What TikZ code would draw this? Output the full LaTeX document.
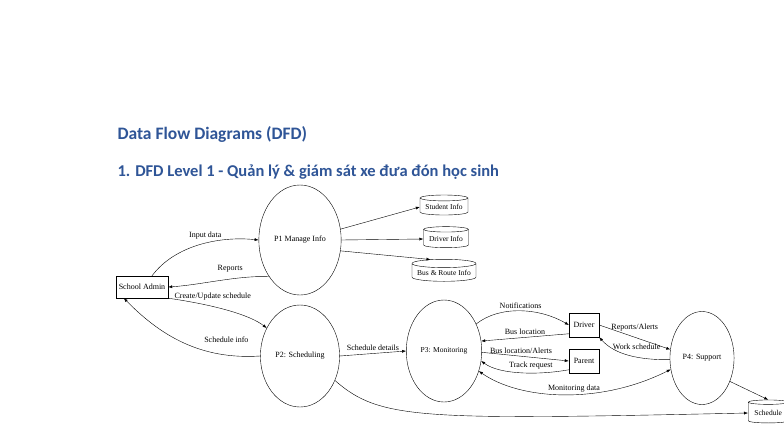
\documentclass[tikz,border=0pt]{standalone}
\usepackage{fontspec}
\setmainfont{Liberation Serif}
\newfontfamily\titlefont{Carlito}
\usetikzlibrary{shapes.geometric,arrows.meta}
\definecolor{tblue}{HTML}{2F5597}
\begin{document}
\begin{tikzpicture}[x=1pt,y=-1pt,
  ent/.style={draw,rectangle,font=\fontsize{8}{9}\selectfont,inner sep=1pt},
  store/.style={draw,cylinder,shape border rotate=90,aspect=0.15,font=\fontsize{7.5}{8}\selectfont,inner sep=1pt},
  flow/.style={-{Latex[length=4pt,width=3pt]},thin},
  lab/.style={font=\fontsize{8}{9}\selectfont,inner sep=0.5pt}]
\useasboundingbox (0,0) rectangle (784,441);
\fill[white] (0,0) rectangle (784,441);
\node[anchor=west,text=tblue,font=\titlefont\bfseries\fontsize{17.5}{19}\selectfont] (t1) at (114,134) {Data Flow Diagrams (DFD)};
\node[anchor=west,text=tblue,font=\titlefont\bfseries\fontsize{16.5}{18}\selectfont] (t2) at (114,172) {1. DFD Level 1 - Quản lý \& giám sát xe đưa đón học sinh};

\node[ent,minimum width=52pt,minimum height=22pt] (adm) at (142,287) {School Admin};
\node[draw,ellipse,minimum width=76pt,minimum height=110pt,font=\fontsize{8}{9}\selectfont] (p1) at (300,240) {P1 Manage Info};
\node[draw,ellipse,minimum width=74pt,minimum height=102pt,font=\fontsize{8}{9}\selectfont] (p2) at (300,356) {P2: Scheduling};
\node[draw,ellipse,minimum width=75pt,minimum height=102pt,font=\fontsize{7.5}{8}\selectfont] (p3) at (444,351) {P3: Monitoring};
\node[draw,ellipse,minimum width=60pt,minimum height=93pt,font=\fontsize{8}{9}\selectfont] (p4) at (702,358) {P4: Support};
\node[ent,minimum width=30pt,minimum height=24pt] (drv) at (584,325) {Driver};
\node[ent,minimum width=30pt,minimum height=24pt] (par) at (584,361) {Parent};
\node[store,minimum width=48pt,minimum height=20pt] (si) at (444,207) {Student Info};
\node[store,minimum width=45pt,minimum height=21pt] (di) at (446,239) {Driver Info};
\node[store,minimum width=64pt,minimum height=22pt] (bri) at (444,273) {Bus \& Route Info};
\node[store,minimum width=40pt,minimum height=23pt,anchor=west] (sch) at (748,413) {Schedule};

\draw[flow] (adm.north) ++(10,0) coordinate (a1) .. controls (175,245) and (220,236) .. (p1.west) node[lab,pos=0.55,above=3pt] {Input data};
\draw[flow] (p1.230) .. controls (240,275) and (200,285) .. (adm.east) node[lab,pos=0.4,above=6pt] {Reports};
\draw[flow] (adm.south east) .. controls (215,305) and (250,315) .. (p2.140) node[lab,pos=0.35,above=6pt] {Create/Update schedule};
\draw[flow] (p2.west) .. controls (200,360) and (160,335) .. ([xshift=8pt]adm.south west) node[lab,pos=0.2,above=12pt] {Schedule info};
\draw[flow] (p1.15) -- (si.west);
\draw[flow] (p1.east) -- (di.west);
\draw[flow] (p1.-15) -- (bri.north west);
\draw[flow] (p2.east) -- (p3.west) node[lab,midway,above=2pt] {Schedule details};
\draw[flow] (p2.-35) .. controls (380,420) and (420,420) .. (sch.west);
\draw[flow] (p3.40) .. controls (500,305) and (540,308) .. (drv.west) node[lab,pos=0.5,above=2pt] {Notifications};
\draw[flow] (drv.210) -- (p3.15) node[lab,pos=0.5,above=2pt] {Bus location};
\draw[flow] (p3.-2) -- (par.west) node[lab,pos=0.45,above=2pt] {Bus location/Alerts};
\draw[flow] (par.210) .. controls (540,375) and (500,375) .. (p3.-15) node[lab,pos=0.4,above=3pt] {Track request};
\draw[flow,{Latex[length=4pt,width=3pt]}-{Latex[length=4pt,width=3pt]}] (p3.-30) .. controls (520,400) and (600,405) .. (p4.200) node[lab,pos=0.55,above=1pt] {Monitoring data};
\draw[flow] (drv.east) -- (p4.165) node[lab,pos=0.5,above=5pt] {Reports/Alerts};
\draw[flow] (p4.183) .. controls (640,360) and (615,355) .. (drv.south east) node[lab,pos=0.4,above=7pt] {Work schedule};
\draw[flow] (p4.-40) -- (sch.north);
\end{tikzpicture}
\end{document}
